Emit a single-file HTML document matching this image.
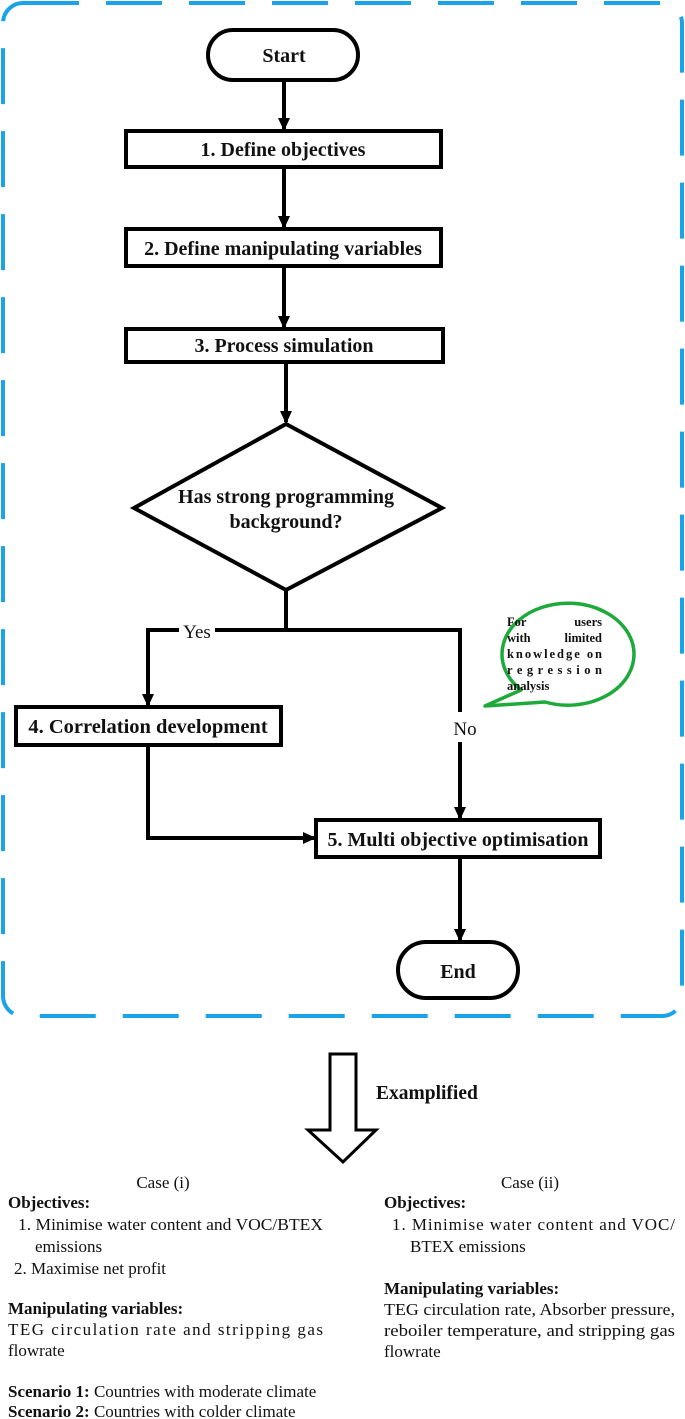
<!DOCTYPE html>
<html><head><meta charset="utf-8"><style>
html,body{margin:0;padding:0;background:#fff;}
svg{display:block;}
text{font-family:"Liberation Serif",serif;fill:#111;}
.b{font-weight:bold;}
</style></head><body>
<svg width="685" height="1419" viewBox="0 0 685 1419" xmlns="http://www.w3.org/2000/svg">
<defs>
<marker id="ah" markerWidth="14" markerHeight="14" refX="11" refY="7" orient="auto" markerUnits="userSpaceOnUse" viewBox="0 0 14 14">
<path d="M0,1 L13,7 L0,13 Z" fill="#000"/>
</marker>
</defs>
<rect x="3" y="3" width="679" height="1013" rx="20" fill="none" stroke="#1AA3E8" stroke-width="4" stroke-dasharray="56,27"/>
<g stroke="#000" stroke-width="4" fill="none">
<rect x="208" y="30" width="150" height="50" rx="25" fill="#fff"/>
<rect x="126" y="131" width="315" height="36" fill="#fff"/>
<rect x="126" y="229" width="315" height="37" fill="#fff"/>
<rect x="126" y="329" width="317" height="33" fill="#fff"/>
<polygon points="286,424 442,508 286,590 134,508" fill="#fff"/>
<rect x="16" y="707" width="265" height="38" fill="#fff"/>
<rect x="316" y="820" width="284" height="37" fill="#fff"/>
<rect x="398" y="942" width="120" height="56" rx="28" fill="#fff"/>
<line x1="284" y1="80" x2="284" y2="129" marker-end="url(#ah)"/>
<line x1="284" y1="167" x2="284" y2="227" marker-end="url(#ah)"/>
<line x1="284" y1="266" x2="284" y2="327" marker-end="url(#ah)"/>
<line x1="286" y1="362" x2="286" y2="422" marker-end="url(#ah)"/>
<polyline points="286,590 286,630 148,630 148,705" marker-end="url(#ah)"/>
<polyline points="286,630 460,630 460,712"/>
<line x1="460" y1="742" x2="460" y2="818" marker-end="url(#ah)"/>
<polyline points="148,745 148,838 314,838" marker-end="url(#ah)"/>
<line x1="460" y1="857" x2="460" y2="940" marker-end="url(#ah)"/>
</g>
<rect x="179" y="621" width="36" height="18" fill="#fff"/>
<text x="197" y="638" font-size="19" text-anchor="middle">Yes</text>
<text x="465" y="735" font-size="19" text-anchor="middle">No</text>
<text class="b" x="284" y="62" font-size="20" text-anchor="middle">Start</text>
<text class="b" x="283" y="156" font-size="20" text-anchor="middle">1. Define objectives</text>
<text class="b" x="283" y="255" font-size="20" text-anchor="middle">2. Define manipulating variables</text>
<text class="b" x="284" y="352" font-size="20" text-anchor="middle">3. Process simulation</text>
<text class="b" x="286" y="503" font-size="20" text-anchor="middle">Has strong programming</text>
<text class="b" x="286" y="528" font-size="20" text-anchor="middle">background?</text>
<text class="b" x="148" y="733" font-size="20.5" text-anchor="middle">4. Correlation development</text>
<text class="b" x="458" y="846" font-size="20" text-anchor="middle">5. Multi objective optimisation</text>
<text class="b" x="458" y="978" font-size="20" text-anchor="middle">End</text>
<path d="M521,690 A66,51 0 1 1 545,702 L485,706 Z" fill="#fff" stroke="#1DAA3A" stroke-width="3.5" stroke-linejoin="round"/>
<g font-size="12.5" class="b">
<text x="507" y="626">For</text><text x="602" y="626" text-anchor="end">users</text>
<text x="507" y="642">with</text><text x="602" y="642" text-anchor="end">limited</text>
<text x="507" y="658" textLength="95" lengthAdjust="spacing">knowledge on</text>
<text x="507" y="674" textLength="95" lengthAdjust="spacing">regression</text>
<text x="507" y="690">analysis</text>
</g>
<polygon points="330,1054 356,1054 356,1130 376,1130 343,1162 308,1130 330,1130" fill="#fff" stroke="#000" stroke-width="3"/>
<text class="b" x="376" y="1099" font-size="19.5">Examplified</text>
<g font-size="17">
<text x="163" y="1188" text-anchor="middle">Case (i)</text>
<text x="8" y="1208" class="b">Objectives:</text>
<text x="18" y="1230" textLength="305" lengthAdjust="spacingAndGlyphs">1. Minimise water content and VOC/BTEX</text>
<text x="35" y="1252">emissions</text>
<text x="14" y="1274">2. Maximise net profit</text>
<text x="8" y="1314" class="b">Manipulating variables:</text>
<text x="8" y="1335" textLength="315" lengthAdjust="spacing">TEG circulation rate and stripping gas</text>
<text x="8" y="1356">flowrate</text>
<text x="8" y="1397"><tspan class="b">Scenario 1:</tspan> Countries with moderate climate</text>
<text x="8" y="1417"><tspan class="b">Scenario 2:</tspan> Countries with colder climate</text>
<text x="530" y="1188" text-anchor="middle">Case (ii)</text>
<text x="384" y="1208" class="b">Objectives:</text>
<text x="392" y="1230" textLength="283" lengthAdjust="spacing">1. Minimise water content and VOC/</text>
<text x="410" y="1252">BTEX emissions</text>
<text x="384" y="1294" class="b">Manipulating variables:</text>
<text x="384" y="1315" textLength="291" lengthAdjust="spacingAndGlyphs">TEG circulation rate, Absorber pressure,</text>
<text x="384" y="1336" textLength="291" lengthAdjust="spacingAndGlyphs">reboiler temperature, and stripping gas</text>
<text x="384" y="1357">flowrate</text>
</g>
</svg>
</body></html>
